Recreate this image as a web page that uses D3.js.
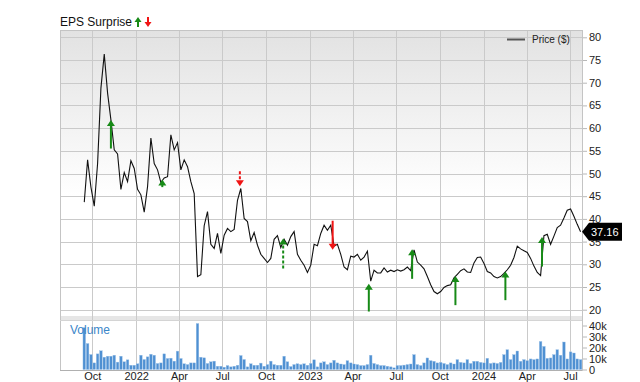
<!DOCTYPE html>
<html lang="en">
<head>
<meta charset="UTF-8">
<title>EPS Surprise</title>
<script src="https://d3js.org/d3.v7.min.js"></script>
<style>
  body { margin: 0; background: #fff; }
  text { font-family: "Liberation Sans", Arial, sans-serif; }
</style>
</head>
<body>
<script>
// weekly closes, first week starts 2021-09-14
var startDate = "2021-09-14";
var prices = [
  43.7, 53, 47, 42.8, 52.2, 68.8, 76.3, 67.7, 61.8, 55.2,
  54.3, 46.5, 50.2, 48.2, 52.8, 51.1, 46.5, 45.3, 41.5, 47.1,
  57.8, 52.2, 50.8, 48, 49, 49.3, 58.5, 55.2, 56.8, 50.8,
  53, 51.5, 48.2, 45.6, 27.3, 27.7, 38.5, 41.6, 34.4, 33.5,
  36.8, 32.4, 36.4, 37.9, 37.2, 37.7, 44.1, 46.7, 40.1, 39.4,
  35.2, 37, 34.2, 32.2, 31.3, 30.4, 31.3, 35.5, 36.3, 33.7,
  35.5, 34.2, 36.1, 37.2, 32.2, 30.9, 29.8, 28.2, 29.8, 34.4,
  34.1, 36.8, 38.6, 37.5, 38.6, 34, 34.4, 32.2, 29.4, 28.8,
  31.8, 31.6, 32.2, 30.9, 31.6, 32.9, 26.3, 28.7, 28.1, 28.1,
  29.2, 28.3, 28.7, 28.4, 28.8, 28.5, 28.8, 29.4, 28.6, 33.2,
  30.5, 29.8, 29, 27.3, 25.5, 24, 23.5, 24, 24.9, 25.3,
  25.5, 27, 27.8, 28.6, 29, 28.3, 28.2, 30.3, 31.5, 31.6,
  30.2, 28.4, 28.1, 27.3, 27, 27.3, 28, 28.8, 29.8, 31.5,
  34, 33.4, 33, 32.6, 31.3, 29.6, 28.2, 27.5, 36.3, 36.6,
  34.4, 36.2, 38.1, 38.6, 40.2, 41.9, 42.2, 40.6, 38.8, 37.16
];
// weekly volume, thousands
var volumes = [
  38, 23.6, 13.6, 6, 14.2, 17, 11.2, 12.1, 12.1, 13,
  6.7, 12.1, 7, 8.8, 3.9, 3.9, 5.2, 13, 9.1, 11.5,
  13.9, 13, 5.5, 6, 14.2, 10, 10.3, 7.6, 16.7, 10,
  5.2, 4.5, 6, 6, 41.8, 11.2, 10.6, 5.5, 7, 7.6,
  3, 3, 2.1, 3.6, 2.4, 3, 3.9, 12.7, 9.1, 2.4,
  5.2, 3.9, 3.9, 5.8, 3, 4.5, 7.6, 4.5, 3.9, 3.9,
  12.1, 7, 2.7, 4.5, 5.2, 4.5, 5.2, 3.9, 5.5, 8.8,
  2.4, 6, 7, 4.5, 6, 8.4, 6, 5, 4.5, 8,
  6, 5, 4.5, 3.6, 3.6, 4.5, 13, 5.5, 4.5, 3.6,
  3.6, 3, 2.4, 1.5, 3.6, 3.6, 4, 4.5, 5, 13.5,
  4.5, 3.6, 6, 10.5, 8, 7.5, 6, 6.5, 5.5, 4.5,
  6, 5, 9, 6.5, 6, 9, 5.5, 7.5, 7.5, 6.5,
  6, 10.2, 5.5, 6, 5.5, 6.5, 13.5, 18, 9, 13.5,
  16.8, 7.5, 9, 8, 9.6, 9, 9.6, 25.5, 21, 10.2,
  10.5, 13.5, 18, 13, 25, 9.6, 16, 15, 9.6, 9
];
var priceTicks = [20, 25, 30, 35, 40, 45, 50, 55, 60, 65, 70, 75, 80];
var volumeTicks = [0, 10, 20, 30, 40];
var volumeLabels = ["0", "10k", "20k", "30k", "40k"];

// EPS surprise arrows
var epsDates = ["2021-11-09", "2022-02-25", "2022-08-07", "2022-11-06", "2023-02-18",
                "2023-05-05", "2023-08-04", "2023-11-03", "2024-02-16", "2024-05-03"];
var epsFrom = [55.5, 47, 50.5, 29.1, 39.6, 19.6, 26.8, 21, 22.1, 29.5];
var epsTo = [61.8, 48.7, 47.2, 35.7, 33.2, 25.7, 33.3, 27.4, 28.4, 36];
var epsDashed = [false, false, true, true, false, false, false, false, false, false];
var lastPrice = 37.16;

var w = 640, h = 382;
var left = 60, right = 582;
var priceTop = 30, priceBottom = 316;
var volTop = 320, volBottom = 370;
var green = "#178a17", red = "#f01414";

var parse = d3.timeParse("%Y-%m-%d");
var start = parse(startDate);
var dates = prices.map((d, i) => d3.timeDay.offset(start, 7 * i));

var x = d3.scaleTime()
          .domain([parse("2021-07-25"), parse("2024-07-26")])
          .range([left, right]);
var y = d3.scaleLinear().domain([20, 80]).range([309.7, 37.3]);
var yv = d3.scaleLinear().domain([0, 45]).range([369.5, 320]);

var svg = d3.select("body").append("svg")
            .attr("width", w).attr("height", h);

// background
var grad = svg.append("defs").append("linearGradient")
              .attr("id", "bg").attr("x1", 0).attr("x2", 0).attr("y1", 0).attr("y2", 1);
grad.append("stop").attr("offset", "0%").attr("stop-color", "#e2e2e2");
grad.append("stop").attr("offset", "58%").attr("stop-color", "#ffffff");
grad.append("stop").attr("offset", "100%").attr("stop-color", "#ffffff");

svg.append("rect").attr("x", left).attr("y", priceTop)
   .attr("width", right - left).attr("height", priceBottom - priceTop)
   .attr("fill", "url(#bg)");
svg.append("rect").attr("x", left).attr("y", priceBottom)
   .attr("width", right - left).attr("height", volTop - priceBottom)
   .attr("fill", "#e6e6e6");

// grid
var monthTicks = x.ticks(d3.timeMonth.every(3));
svg.append("g").selectAll("line").data(priceTicks).join("line")
   .attr("x1", left).attr("x2", right)
   .attr("y1", d => Math.round(y(d)) + 0.5).attr("y2", d => Math.round(y(d)) + 0.5)
   .attr("stroke", "#cacaca");
svg.append("g").selectAll("line").data(monthTicks).join("line")
   .attr("x1", d => Math.round(x(d)) + 0.5).attr("x2", d => Math.round(x(d)) + 0.5)
   .attr("y1", priceTop).attr("y2", volBottom)
   .attr("stroke", "#cacaca");
svg.append("line").attr("x1", left).attr("x2", right)
   .attr("y1", priceTop + 0.5).attr("y2", priceTop + 0.5).attr("stroke", "#c4c4c4");
svg.append("line").attr("x1", left + 0.5).attr("x2", left + 0.5)
   .attr("y1", priceTop).attr("y2", volBottom).attr("stroke", "#c4c4c4");
svg.append("line").attr("x1", left).attr("x2", right)
   .attr("y1", volTop + 0.5).attr("y2", volTop + 0.5).attr("stroke", "#d4d4d4");

// volume bars
svg.append("g").selectAll("rect").data(volumes).join("rect")
   .attr("x", (d, i) => x(dates[i]) - 1.3)
   .attr("y", d => yv(d))
   .attr("width", 2.6)
   .attr("height", d => yv(0) - yv(d))
   .attr("fill", "#4f90d2")
   .attr("stroke", "#9dc2e8")
   .attr("stroke-width", 0.4);

svg.append("line").attr("x1", left).attr("x2", right)
   .attr("y1", volBottom + 0.5).attr("y2", volBottom + 0.5).attr("stroke", "#b0b0b0");

svg.append("text").attr("x", 70).attr("y", 334)
   .attr("font-size", 12).attr("fill", "#3b86c9").text("Volume");

// price line
var line = d3.line().x((d, i) => x(dates[i])).y(d => y(d));
svg.append("path").datum(prices)
   .attr("d", line).attr("fill", "none")
   .attr("stroke", "#111").attr("stroke-width", 1.1);

// arrows
function arrow(g, cx, y0, y1, color, dashed, hw, hh) {
  var dir = y1 < y0 ? 1 : -1;
  g.append("line")
   .attr("x1", cx).attr("x2", cx)
   .attr("y1", y0).attr("y2", y1 + dir * hh * 0.8)
   .attr("stroke", color).attr("stroke-width", 2)
   .attr("stroke-dasharray", dashed ? "3,2" : null);
  g.append("path")
   .attr("d", "M" + (cx - hw) + "," + (y1 + dir * hh) + "L" + cx + "," + y1 +
              "L" + (cx + hw) + "," + (y1 + dir * hh) + "Z")
   .attr("fill", color);
}
var ga = svg.append("g");
epsDates.forEach(function(d, i) {
  var c = epsTo[i] > epsFrom[i] ? green : red;
  arrow(ga, x(parse(d)), y(epsFrom[i]), y(epsTo[i]), c, epsDashed[i], 4, 6);
});

// axes
var ax = svg.append("g").attr("transform", "translate(" + right + ",0)")
            .call(d3.axisRight(y).tickValues(priceTicks).tickSize(5).tickPadding(2));
var av = svg.append("g").attr("transform", "translate(" + right + ",0)")
            .call(d3.axisRight(yv).tickValues(volumeTicks).tickSize(5).tickPadding(2)
                    .tickFormat((d, i) => volumeLabels[i]));
var axb = svg.append("g").attr("transform", "translate(0," + volBottom + ")")
             .call(d3.axisBottom(x).tickValues(monthTicks).tickSize(0).tickPadding(2)
                     .tickFormat(d => d.getMonth() === 0 ? d3.timeFormat("%Y")(d) : d3.timeFormat("%b")(d)));
[ax, av, axb].forEach(function(a) {
  a.select(".domain").remove();
  a.selectAll(".tick line").attr("stroke", "#b8b8b8");
  a.selectAll(".tick text").attr("fill", "#222").attr("font-size", 11)
   .attr("font-family", "Liberation Sans, Arial, sans-serif");
});
svg.append("line").attr("x1", right + 0.5).attr("x2", right + 0.5)
   .attr("y1", priceTop).attr("y2", volBottom + 1).attr("stroke", "#c4c4c4");

// last price badge
var yc = y(lastPrice);
svg.append("path")
   .attr("d", "M" + right + "," + yc + "L" + (right + 7) + "," + (yc - 9) + "L622," + (yc - 9) +
              "L622," + (yc + 9) + "L" + (right + 7) + "," + (yc + 9) + "Z")
   .attr("fill", "#000");
svg.append("text").attr("x", right + 9).attr("y", yc + 4)
   .attr("font-size", 11).attr("fill", "#fff").text(lastPrice.toFixed(2));

// legends
svg.append("text").attr("x", 60).attr("y", 26)
   .attr("font-size", 12).attr("fill", "#111").text("EPS Surprise");
var gl = svg.append("g");
arrow(gl, 138, 27, 17, green, false, 3.5, 5);
arrow(gl, 148, 17, 27, red, false, 3.5, 5);

svg.append("line").attr("x1", 507).attr("x2", 525)
   .attr("y1", 39.5).attr("y2", 39.5)
   .attr("stroke", "#555").attr("stroke-width", 2);
svg.append("text").attr("x", 532).attr("y", 43)
   .attr("font-size", 10).attr("fill", "#222").text("Price ($)");
</script>
</body>
</html>
